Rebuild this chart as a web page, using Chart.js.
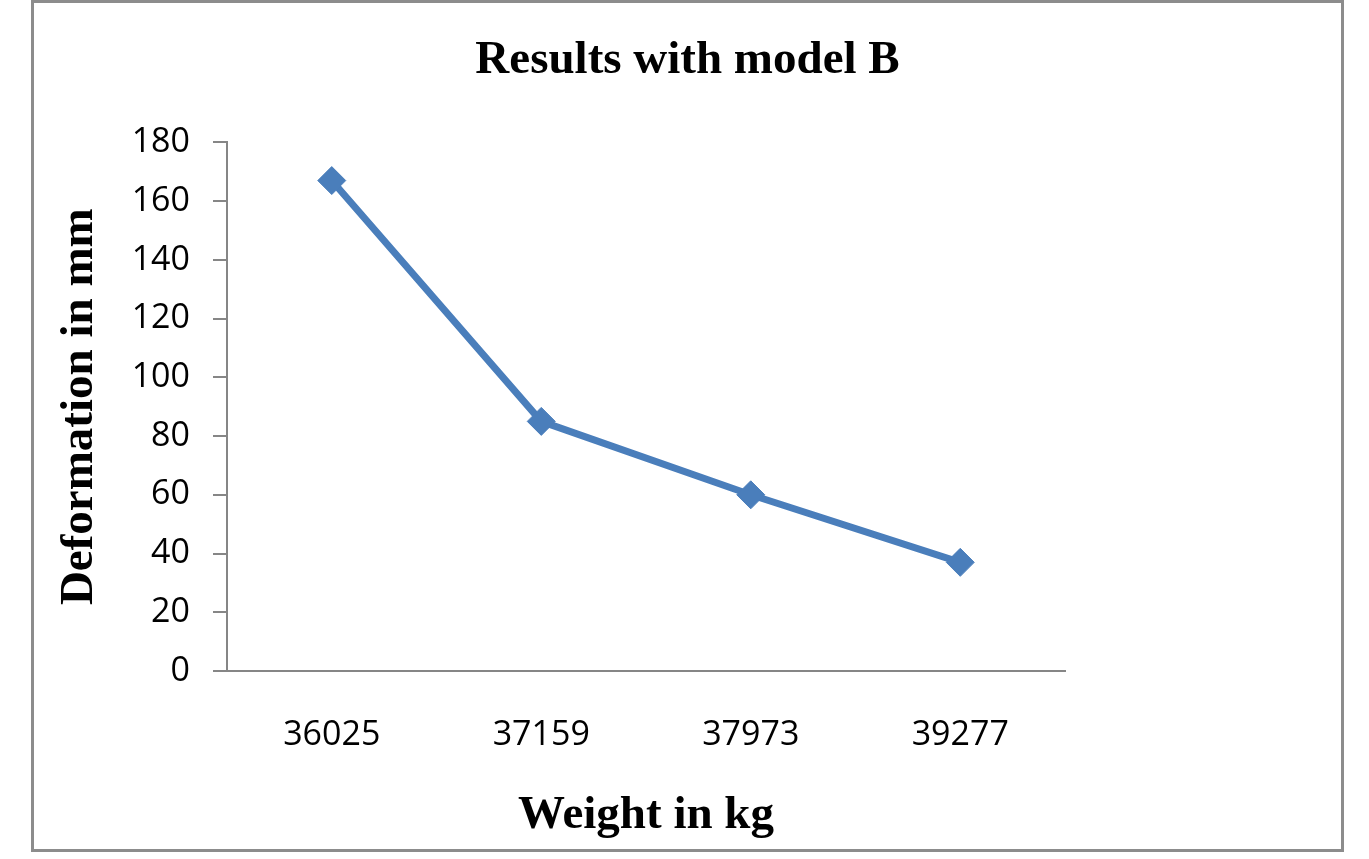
<!DOCTYPE html>
<html>
<head>
<meta charset="utf-8">
<script src="https://cdn.jsdelivr.net/npm/chart.js@4"></script>
<style>
    body { margin: 0; background: white; }
    #quadro {
        position: absolute;
        left: 31px;
        top: 0px;
        width: 1313px;
        height: 852px;
        border: 3px solid #8c8c8c;
        box-sizing: border-box;
    }
</style>
</head>
<body>
<div id="quadro"><canvas id="grafico"></canvas></div>
<script>

// dados
var pesos = ['36025', '37159', '37973', '39277'];
var deformacoes = [167, 85, 60, 37];
var ticksY = [0, 20, 40, 60, 80, 100, 120, 140, 160, 180];

var cinza = '#868686';
var azul = '#4a7ebb';

const data = {
    labels: pesos,
    datasets: [{
        label: 'Deformation in mm',
        data: deformacoes,
        borderColor: azul,
        backgroundColor: azul,
        borderWidth: 7,
        pointStyle: 'rectRot',
        pointRadius: 14,
        pointBorderWidth: 1,
        pointBackgroundColor: azul,
        pointBorderColor: azul,
        tension: 0
    }]
};

const config = {
    type: 'line',
    data: data,
    options: {
        responsive: false,
        animation: false,
        devicePixelRatio: 1,
        layout: { padding: 0 },
        plugins: {
            legend: { display: false },
            tooltip: { enabled: false },
            title: {
                display: true,
                text: 'Results with model B',
                color: 'black',
                font: { family: 'Liberation Serif', size: 47, weight: 'bold' },
                padding: { top: 29.4, bottom: 53.6 }
            }
        },
        scales: {
            x: {
                offset: true,
                grid: { display: true, drawOnChartArea: false, drawTicks: false, color: cinza, lineWidth: 2 },
                border: { display: true, color: cinza, width: 2 },
                ticks: {
                    color: 'black',
                    padding: 44,
                    maxRotation: 0,
                    font: { family: 'Open Sans', size: 34 }
                },
                title: {
                    display: true,
                    text: 'Weight in kg',
                    color: 'black',
                    font: { family: 'Liberation Serif', size: 47, weight: 'bold' },
                    padding: { top: 20, bottom: 5 }
                },
                afterFit: function (eixo) { eixo.height = 178; }
            },
            y: {
                min: 0,
                max: 180,
                afterBuildTicks: function (eixo) {
                    eixo.ticks = ticksY.map(function (v) { return { value: v }; });
                },
                grid: { display: true, drawOnChartArea: false, drawTicks: true, tickLength: 14, color: cinza, lineWidth: 2 },
                border: { display: true, color: cinza, width: 2 },
                ticks: {
                    color: 'black',
                    padding: 23,
                    font: { family: 'Open Sans', size: 34 }
                },
                title: {
                    display: true,
                    text: 'Deformation in mm',
                    color: 'black',
                    font: { family: 'Liberation Serif', size: 47, weight: 'bold' },
                    padding: { top: 17.4, bottom: 20 }
                },
                afterFit: function (eixo) { eixo.width = 193; }
            },
            // eixo vazio so para reservar o espaco a direita
            direita: {
                type: 'linear',
                position: 'right',
                display: true,
                grid: { display: false },
                border: { display: false },
                ticks: { display: false },
                afterFit: function (eixo) { eixo.width = 276; }
            }
        }
    }
};

var canvas = document.getElementById('grafico');
canvas.width = 1307;
canvas.height = 846;

const grafico = new Chart(canvas, config);

</script>
</body>
</html>
